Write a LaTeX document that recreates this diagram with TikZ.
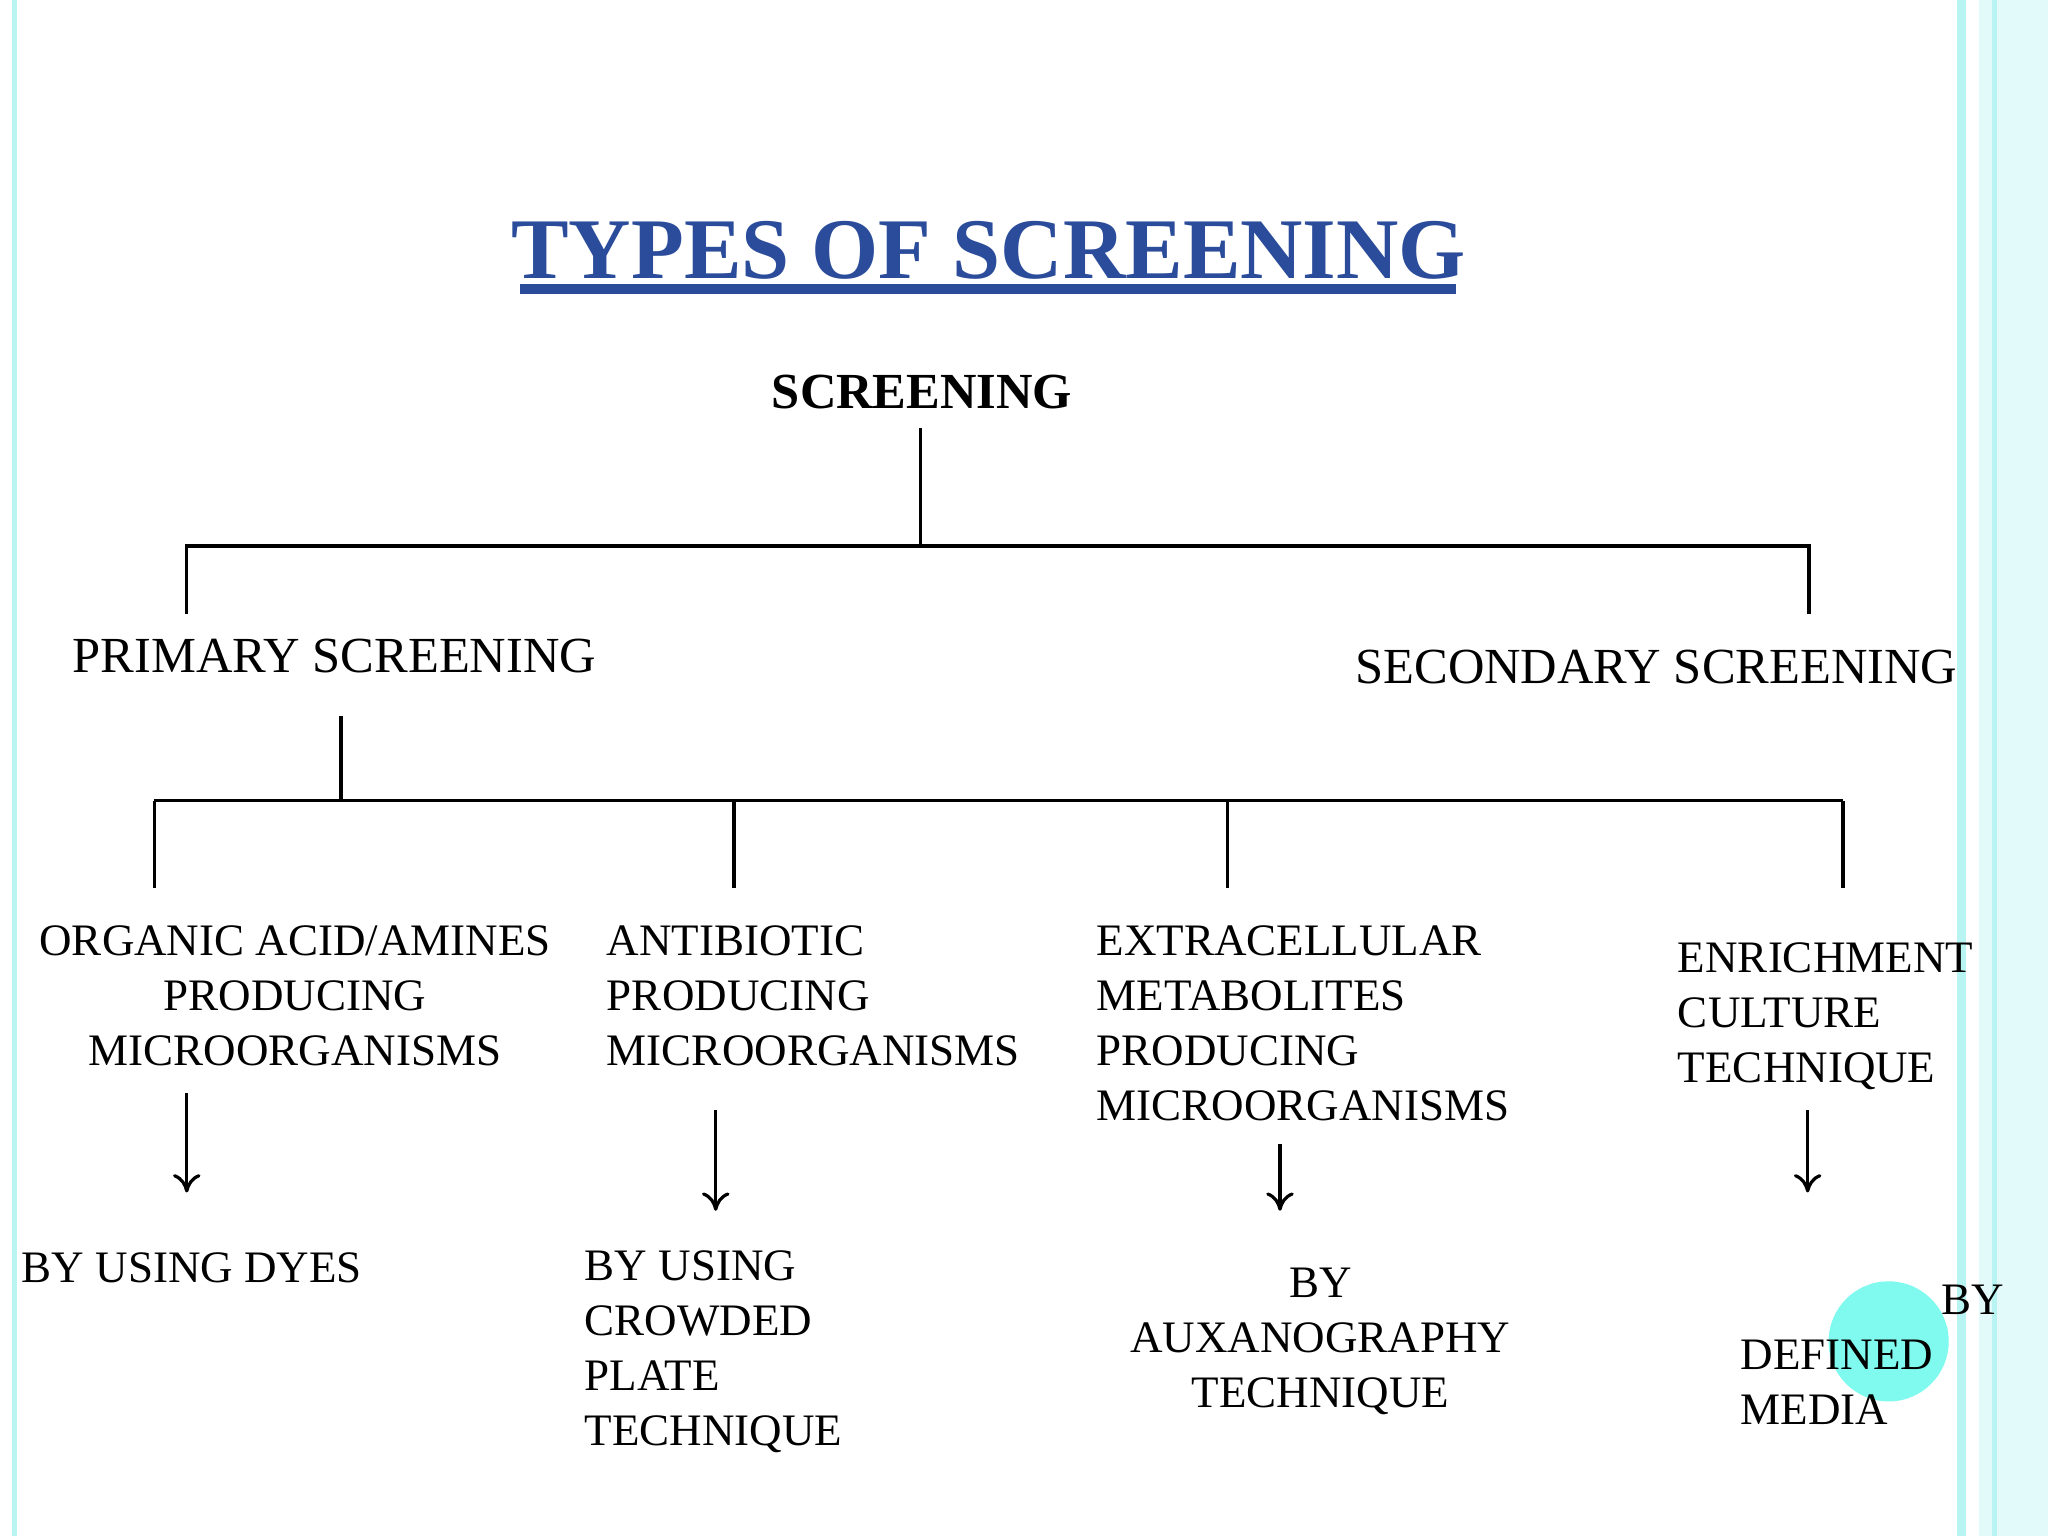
\documentclass[tikz,border=0pt]{standalone}
\usepackage{fontspec}
\usetikzlibrary{arrows.meta}
\setmainfont{Liberation Serif}
\definecolor{ttl}{HTML}{2B4C9B}
\definecolor{cy}{HTML}{B8F4F2}
\definecolor{cyl}{HTML}{E2FBFA}
\definecolor{dot}{HTML}{80FAEE}
\begin{document}
\begin{tikzpicture}[x=0.01cm,y=-0.01cm,
 txt/.style={inner sep=0pt,font=\fontsize{9.8}{11.95}\selectfont},
 big/.style={inner sep=0pt,font=\fontsize{11}{12}\selectfont},
 ln/.style={line width=0.7pt},
 arr/.style={line width=0.7pt,-{To[length=4pt,width=6pt]}}]
\useasboundingbox (0,0) rectangle (1568,1176);
\fill[white] (0,0) rectangle (1568,1176);
\fill[cy] (9,0) rectangle (13,1176);
\fill[cy] (1498,0) rectangle (1505,1176);
\fill[cyl] (1515,0) rectangle (1568,1176);
\fill[cy] (1525,0) rectangle (1529,1176);
% title
\node[inner sep=0pt,anchor=base,text=ttl,font=\fontsize{18.8}{20}\selectfont\bfseries] (title) at (757,213) {TYPES OF SCREENING};
\draw[ttl,line width=2.2pt] (398,221) -- (1115,221);
\node[inner sep=0pt,anchor=base,font=\fontsize{11}{12}\selectfont\bfseries] (scr) at (706,313) {SCREENING};
\node[big,anchor=base west] (pri) at (55,515) {PRIMARY SCREENING};
\node[big,anchor=base west] (sec) at (1037,523) {SECONDARY SCREENING};
\coordinate (s1) at (705,328); \coordinate (s2) at (705,418);
\coordinate (hl) at (143,418); \coordinate (hr) at (1385,418);
\coordinate (hl2) at (143,470); \coordinate (hr2) at (1385,470);
\draw[ln] (s1) -- (s2); \draw[ln] (hl2) -- (hl) -- (hr) -- (hr2);
\coordinate (p1) at (261,548); \coordinate (p2) at (261,613);
\coordinate (b1) at (118,613); \coordinate (b4) at (1411,613);
\draw[ln] (p1) -- (p2); \draw[ln] (b1) -- (b4);
\foreach \x/\n in {118/a,562/b,940/c,1411/d}{
 \coordinate (t\n) at (\x,613); \coordinate (u\n) at (\x,680);
 \draw[ln] (t\n) -- (u\n);}
% level 3
\node[txt,anchor=north,align=center] (org) at (226,708) {ORGANIC ACID/AMINES\\PRODUCING\\MICROORGANISMS};
\node[txt,anchor=north west,align=left] (ant) at (464,708) {ANTIBIOTIC\\PRODUCING\\MICROORGANISMS};
\node[txt,anchor=north west,align=left] (ext) at (839,708) {EXTRACELLULAR\\METABOLITES\\PRODUCING\\MICROORGANISMS};
\node[txt,anchor=north west,align=left] (enr) at (1284,721) {ENRICHMENT\\CULTURE\\TECHNIQUE};
\coordinate (a1) at (143,837); \coordinate (a2) at (143,913);
\coordinate (c1) at (548,850); \coordinate (c2) at (548,927);
\coordinate (e1) at (980,876); \coordinate (e2) at (980,927);
\coordinate (f1) at (1384,850); \coordinate (f2) at (1384,913);
\draw[arr] (a1)--(a2); \draw[arr] (c1)--(c2); \draw[arr] (e1)--(e2); \draw[arr] (f1)--(f2);
\fill[dot] (1446,1027) circle (46);
\node[txt,anchor=base west] (dyes) at (16,982) {BY USING DYES};
\node[txt,anchor=north west,align=left] (crowd) at (447,957) {BY USING\\CROWDED\\PLATE\\TECHNIQUE};
\node[txt,anchor=north,align=center] (aux) at (1011,970) {BY\\AUXANOGRAPHY\\TECHNIQUE};
\node[txt,anchor=north west,align=left] (def) at (1332,983) {\hspace*{35\unitlength}\hspace{0.9em}BY\\DEFINED\\MEDIA};
\end{tikzpicture}
\end{document}
